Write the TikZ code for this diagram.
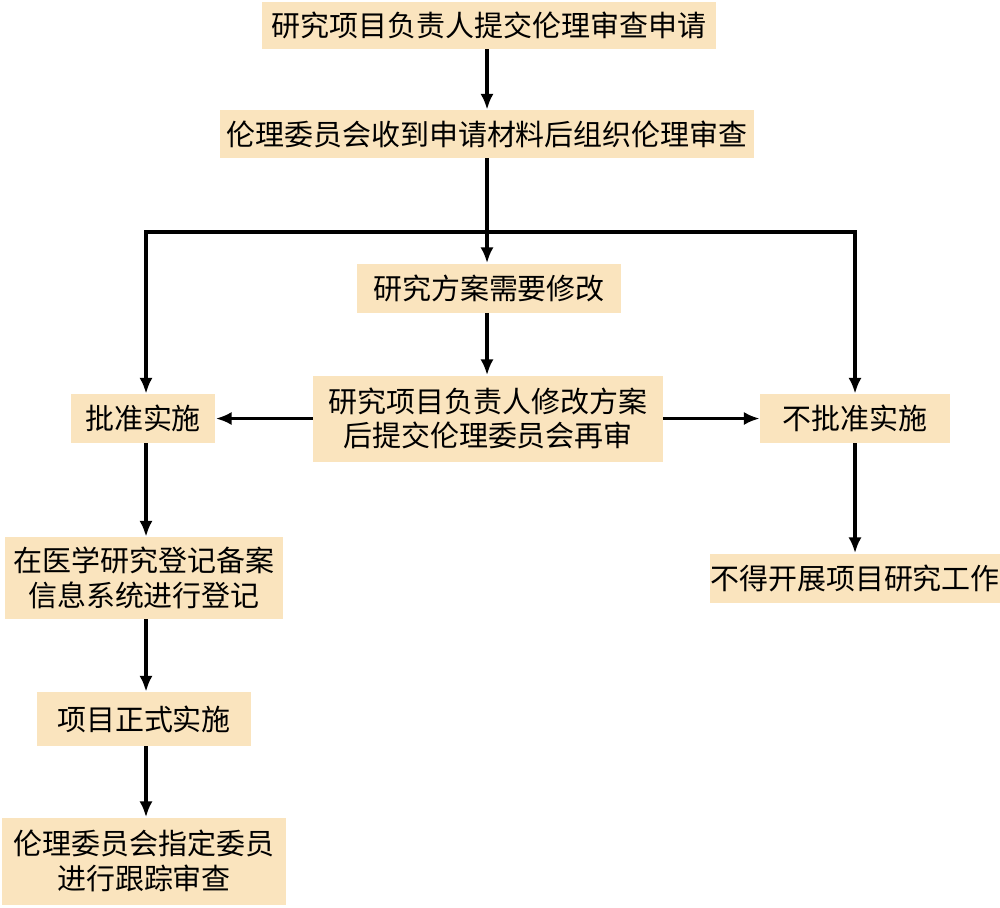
\documentclass[tikz,border=0pt]{standalone}
\usepackage{fontspec}
\setmainfont{Noto Sans CJK SC}
\usetikzlibrary{arrows.meta}
\definecolor{boxtan}{RGB}{250,228,190}
\begin{document}
\begin{tikzpicture}[x=0.02cm, y=-0.02cm,
  stepbox/.style={fill=boxtan, inner sep=0pt, align=center,
    font=\fontsize{16.5}{19.5}\selectfont},
  flow/.style={line width=2.2pt, -{Latex[length=9pt, width=7.5pt]}},
  link/.style={line width=2.2pt, line cap=rect}]
  \useasboundingbox (0,0) rectangle (1000,907);
  % Submission and first review
  \node[stepbox, minimum width=9.08cm, minimum height=0.94cm] (apply) at (489,25.5) {研究项目负责人提交伦理审查申请};
  \node[stepbox, minimum width=10.7cm, minimum height=0.96cm] (review) at (487,134) {伦理委员会收到申请材料后组织伦理审查};
  % Three outcomes
  \node[stepbox, minimum width=5.3cm, minimum height=0.98cm] (revise) at (489,288) {研究方案需要修改};
  \node[stepbox, minimum width=7.0cm, minimum height=1.72cm] (resubmit) at (488,418.5) {研究项目负责人修改方案\\后提交伦理委员会再审};
  \node[stepbox, minimum width=2.9cm, minimum height=0.98cm] (approve) at (143,418.5) {批准实施};
  \node[stepbox, minimum width=3.8cm, minimum height=0.98cm] (reject) at (855,418.5) {不批准实施};
  % Approved branch
  \node[stepbox, minimum width=5.58cm, minimum height=1.64cm] (register) at (144,578) {在医学研究登记备案\\信息系统进行登记};
  \node[stepbox, minimum width=4.28cm, minimum height=1.08cm] (start) at (144,719) {项目正式实施};
  \node[stepbox, minimum width=5.7cm, minimum height=1.74cm] (track) at (144,861) {伦理委员会指定委员\\进行跟踪审查};
  % Rejected branch
  \node[stepbox, minimum width=5.7cm, minimum height=0.98cm] (stop) at (855,578) {不得开展项目研究工作};
  % Connectors
  \coordinate (trunk) at (487,0);
  \coordinate (leftcorner) at (146,232);
  \coordinate (rightcorner) at (855,232);
  \draw[flow] (trunk |- apply.south) -- (trunk |- review.north);
  \draw[flow] (trunk |- review.south) -- (trunk |- revise.north);
  \draw[link] (leftcorner) -- (rightcorner);
  \draw[flow] (leftcorner) -- (leftcorner |- approve.north);
  \draw[flow] (rightcorner) -- (reject.north);
  \draw[flow] (trunk |- revise.south) -- (trunk |- resubmit.north);
  \draw[flow] (resubmit.west) -- (approve.east);
  \draw[flow] (resubmit.east) -- (reject.west);
  \draw[flow] (leftcorner |- approve.south) -- (leftcorner |- register.north);
  \draw[flow] (leftcorner |- register.south) -- (leftcorner |- start.north);
  \draw[flow] (leftcorner |- start.south) -- (leftcorner |- track.north);
  \draw[flow] (reject) -- (stop);
\end{tikzpicture}
\end{document}
